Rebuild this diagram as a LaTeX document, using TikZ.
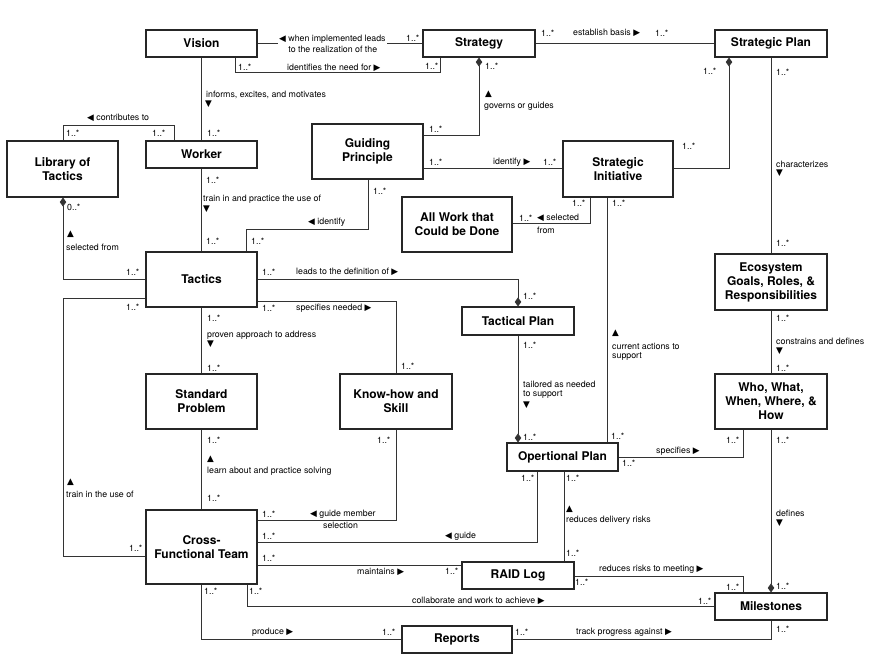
\documentclass[tikz,border=0pt]{standalone}
\usepackage{fontspec}
\setmainfont{TeX Gyre Heros}
\newfontfamily\symfont{DejaVu Sans}
\usetikzlibrary{arrows.meta}
\tikzset{dia/.tip={Diamond[length=9pt,width=6.5pt]}}
\newcommand\triR{{\symfont\fontsize{8.8}{8.8}\selectfont ▶}}
\newcommand\triL{{\symfont\fontsize{8.8}{8.8}\selectfont ◀}}
\newcommand\triU{{\symfont\fontsize{8.8}{8.8}\selectfont ▲}}
\newcommand\triD{{\symfont\fontsize{8.8}{8.8}\selectfont ▼}}
\begin{document}
\begin{tikzpicture}[x=1pt,y=-1pt,
  box/.style={draw=black!85, line width=1.1pt, fill=white, align=center, inner sep=0pt,
    font=\fontsize{12}{14}\selectfont\bfseries},
  lbl/.style={anchor=west, inner sep=0pt, font=\fontsize{8.8}{10}\selectfont, align=left},
  conn/.style={draw=black!80, line width=0.9pt}]
\fill[white] (0,0) rectangle (872,666);
\useasboundingbox (0,0) rectangle (872,666);
% boxes
\node[box, minimum width=111pt, minimum height=27pt] (vision) at (201.5,43.5) {Vision};
\node[box, minimum width=112pt, minimum height=27pt] (strategy) at (479,43.5) {Strategy};
\node[box, minimum width=112pt, minimum height=27pt] (splan) at (771,43.5) {Strategic Plan};
\node[box, minimum width=111pt, minimum height=27pt] (worker) at (201.5,154.5) {Worker};
\node[box, minimum width=111pt, minimum height=56pt] (library) at (62.5,169) {Library of\\Tactics};
\node[box, minimum width=111pt, minimum height=55pt] (guiding) at (367.5,151.5) {Guiding\\Principle};
\node[box, minimum width=110pt, minimum height=56pt] (sinit) at (618,169) {Strategic\\Initiative};
\node[box, minimum width=110pt, minimum height=55pt] (allwork) at (457,224.5) {All Work that\\Could be Done};
\node[box, minimum width=111pt, minimum height=55pt] (tactics) at (201.5,279.5) {Tactics};
\node[box, minimum width=111pt, minimum height=55pt] (stdprob) at (201.5,401.5) {Standard\\Problem};
\node[box, minimum width=112pt, minimum height=55pt] (knowhow) at (396,401.5) {Know-how and\\Skill};
\node[box, minimum width=112pt, minimum height=28pt] (tplan) at (518,321) {Tactical Plan};
\node[box, minimum width=112pt, minimum height=56pt] (eco) at (771,282) {Ecosystem\\Goals, Roles, \&\\Responsibilities};
\node[box, minimum width=112pt, minimum height=55pt] (who) at (771,401.5) {Who, What,\\When, Where, \&\\How};
\node[box, minimum width=111pt, minimum height=28pt] (oplan) at (562.5,457) {Opertional Plan};
\node[box, minimum width=111pt, minimum height=74pt] (cft) at (201.5,547) {Cross-\\Functional Team};
\node[box, minimum width=112pt, minimum height=27pt] (raid) at (518,575.5) {RAID Log};
\node[box, minimum width=112pt, minimum height=27pt] (milestones) at (771,606.5) {Milestones};
\node[box, minimum width=110pt, minimum height=27pt] (reports) at (457,639.5) {Reports};
% connectors
\draw[conn] (vision.east) -- (strategy.west);
\draw[conn] (vision.south -| 235,0) -- (235,72) -- (440,72) -- (strategy.south -| 440,0);
\draw[conn] (strategy.east) -- (splan.west);
\draw[conn] (vision.south) -- (worker.north);
\draw[conn] (library.north -| 63,0) -- (63,125) -- (174,125) -- (worker.north -| 174,0);
\draw[conn] (worker.south) -- (tactics.north);
\draw[conn,{dia}-] (library.south -| 63,0) -- (63,279.5) -- (tactics.west);
\draw[conn] (tactics.west |- 0,298) -- (63,298) -- (63,556) -- (cft.west |- 0,556);
\draw[conn,-{dia}] (guiding.east |- 0,135) -- (479,135) -- (strategy.south);
\draw[conn] (guiding.east |- 0,168) -- (sinit.west |- 0,168);
\draw[conn,-{dia}] (sinit.east |- 0,168) -- (729,168) -- (splan.south -| 729,0);
\draw[conn] (guiding.south -| 368,0) -- (368,229) -- (246,229) -- (tactics.north -| 246,0);
\draw[conn] (sinit.south -| 590,0) -- (590,223) -- (allwork.east |- 0,223);
\draw[conn] (sinit.south -| 607,0) -- (oplan.north -| 607,0);
\draw[conn] (splan.south) -- (eco.north);
\draw[conn] (eco.south) -- (who.north);
\draw[conn,-{dia}] (who.south) -- (milestones.north);
\draw[conn] (oplan.east) -- (743,457) -- (who.south -| 743,0);
\draw[conn,-{dia}] (tactics.east) -| (tplan.north);
\draw[conn] (tactics.east |- 0,301) -| (knowhow.north);
\draw[conn] (tactics.south) -- (stdprob.north);
\draw[conn,-{dia}] (tplan.south) -- (tplan.south |- oplan.north);
\draw[conn] (stdprob.south) -- (cft.north);
\draw[conn] (knowhow.south) |- (cft.east |- 0,520);
\draw[conn] (oplan.south -| 537,0) |- (cft.east |- 0,542);
\draw[conn] (oplan.south -| 564,0) -- (raid.north -| 564,0);
\draw[conn] (cft.east |- 0,565) -- (raid.west |- 0,565);
\draw[conn] (raid.east |- 0,576) -| (milestones.north -| 743,0);
\draw[conn] (cft.south -| 247,0) |- (milestones.west |- 0,606);
\draw[conn] (cft.south) |- (reports.west);
\draw[conn] (reports.east) -| (milestones.south);
% labels
\node[lbl, fill=white, inner sep=1pt, font=\fontsize{8.8}{11}\selectfont] (l1) at (278,44.5) {\triL\ when implemented leads\\\phantom{\triL\ }to the realization of the};
\node[lbl] (l2) at (406,38) {1..*};
\node[lbl] (l3) at (238,67) {1..*};
\node[lbl] (l4) at (287,68) {identifies the need for \triR};
\node[lbl] (l5) at (425,66) {1..*};
\node[lbl] (l6) at (541,33) {1..*};
\node[lbl] (l7) at (573,33) {establish basis \triR};
\node[lbl] (l8) at (655,33) {1..*};
\node[lbl] (l9) at (206,95) {informs, excites, and motivates};
\node[lbl] (l10) at (205,104.5) {\triD};
\node[lbl] (l11) at (207,133) {1..*};
\node[lbl] (l12) at (87,118) {\triL\ contributes to};
\node[lbl] (l13) at (66,133) {1..*};
\node[lbl] (l14) at (152,133) {1..*};
\node[lbl] (l15) at (206,180) {1..*};
\node[lbl] (l16) at (203,199) {train in and practice the use of};
\node[lbl] (l17) at (203,209) {\triD};
\node[lbl] (l18) at (206,241) {1..*};
\node[lbl] (l19) at (67,207) {0..*};
\node[lbl] (l20) at (67,234) {\triU};
\node[lbl] (l21) at (66,247) {selected from};
\node[lbl] (l22) at (126,272) {1..*};
\node[lbl] (l23) at (126,307) {1..*};
\node[lbl] (l24) at (67,482) {\triU};
\node[lbl] (l25) at (66,494) {train in the use of};
\node[lbl] (l26) at (129,548) {1..*};
\node[lbl] (l27) at (429,129) {1..*};
\node[lbl] (l28) at (485,66) {1..*};
\node[lbl] (l29) at (485,94) {\triU};
\node[lbl] (l30) at (484,106) {governs or guides};
\node[lbl] (l31) at (429,162) {1..*};
\node[lbl] (l32) at (493,162) {identify \triR};
\node[lbl] (l33) at (543,162) {1..*};
\node[lbl] (l34) at (682,146) {1..*};
\node[lbl] (l35) at (703,71) {1..*};
\node[lbl] (l36) at (373,191) {1..*};
\node[lbl] (l37) at (308,222) {\triL\ identify};
\node[lbl] (l38) at (251,241) {1..*};
\node[lbl] (l39) at (572,203) {1..*};
\node[lbl] (l40) at (519,218) {1..*};
\node[lbl] (l41) at (537,218) {\triL\ selected};
\node[lbl] (l42) at (537,230) {from};
\node[lbl] (l43) at (612,203) {1..*};
\node[lbl] (l44) at (612,333) {\triU};
\node[lbl] (l45) at (612,346) {current actions to};
\node[lbl] (l46) at (612,357) {support};
\node[lbl] (l47) at (611,436) {1..*};
\node[lbl] (l48) at (776,72) {1..*};
\node[lbl] (l49) at (776,164) {characterizes};
\node[lbl] (l50) at (776,173) {\triD};
\node[lbl] (l51) at (776,243) {1..*};
\node[lbl] (l52) at (776,318) {1..*};
\node[lbl] (l53) at (776,341) {constrains and defines};
\node[lbl] (l54) at (776,351) {\triD};
\node[lbl] (l55) at (776,368) {1..*};
\node[lbl] (l56) at (776,440) {1..*};
\node[lbl] (l57) at (776,513) {defines};
\node[lbl] (l58) at (776,523) {\triD};
\node[lbl] (l59) at (776,586) {1..*};
\node[lbl] (l60) at (622,463) {1..*};
\node[lbl] (l61) at (656,451) {specifies \triR};
\node[lbl] (l62) at (726,440) {1..*};
\node[lbl] (l63) at (262,272) {1..*};
\node[lbl] (l64) at (296,272) {leads to the definition of \triR};
\node[lbl] (l65) at (523,296) {1..*};
\node[lbl] (l66) at (262,308) {1..*};
\node[lbl] (l67) at (296,308) {specifies needed \triR};
\node[lbl] (l68) at (401,366) {1..*};
\node[lbl] (l69) at (207,318) {1..*};
\node[lbl] (l70) at (207,335) {proven approach to address};
\node[lbl] (l71) at (207,344.5) {\triD};
\node[lbl] (l72) at (207,368) {1..*};
\node[lbl] (l73) at (523,345) {1..*};
\node[lbl] (l74) at (523,384) {tailored as needed};
\node[lbl] (l75) at (523,395) {to support};
\node[lbl] (l76) at (523,405) {\triD};
\node[lbl] (l77) at (523,437) {1..*};
\node[lbl] (l78) at (207,440) {1..*};
\node[lbl] (l79) at (207,459) {\triU};
\node[lbl] (l80) at (207,471) {learn about and practice solving};
\node[lbl] (l81) at (207,498) {1..*};
\node[lbl] (l82) at (377,440) {1..*};
\node[lbl] (l83) at (310,514) {\triL\ guide member};
\node[lbl] (l84) at (323,525) {selection};
\node[lbl] (l85) at (262,514) {1..*};
\node[lbl] (l86) at (521,478) {1..*};
\node[lbl] (l87) at (445,536) {\triL\ guide};
\node[lbl] (l88) at (262,536) {1..*};
\node[lbl] (l89) at (566,478) {1..*};
\node[lbl] (l90) at (566,509) {\triU};
\node[lbl] (l91) at (566,520) {reduces delivery risks};
\node[lbl] (l92) at (566,553) {1..*};
\node[lbl] (l93) at (262,558) {1..*};
\node[lbl] (l94) at (357,572) {maintains \triR};
\node[lbl] (l95) at (445,571) {1..*};
\node[lbl] (l96) at (575,582) {1..*};
\node[lbl] (l97) at (599,569) {reduces risks to meeting \triR};
\node[lbl] (l98) at (726,587) {1..*};
\node[lbl] (l99) at (249,591) {1..*};
\node[lbl] (l100) at (412,601) {collaborate and work to achieve \triR};
\node[lbl] (l101) at (698,601) {1..*};
\node[lbl] (l102) at (204,591) {1..*};
\node[lbl] (l103) at (252,632) {produce \triR};
\node[lbl] (l104) at (382,632) {1..*};
\node[lbl] (l105) at (515,632) {1..*};
\node[lbl] (l106) at (576,632) {track progress against \triR};
\node[lbl] (l107) at (776,629) {1..*};
\end{tikzpicture}
\end{document}
